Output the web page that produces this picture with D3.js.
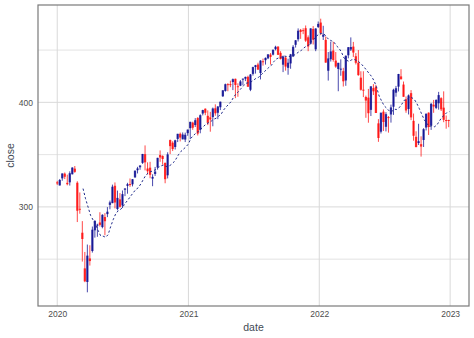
<!DOCTYPE html>
<html>
<head>
<meta charset="utf-8">
<script src="https://cdn.jsdelivr.net/npm/d3@7"></script>
<style>
  html, body { margin: 0; padding: 0; background: #ffffff; }
  svg { display: block; font-family: "Liberation Sans", Arial, sans-serif; }
</style>
</head>
<body>
<svg id="chart" width="474" height="338"></svg>
<script>
// SPY weekly candles, 2020-2022 (one entry per trading week, week ending Friday)
const firstWeekEnd = "2020-01-03";
const lastWeekEnd = "2022-12-30";

const weekOpen = [
  323.5, 320.5, 327.3, 331.8, 323.0, 323.5, 331.2, 336.6, 323.1, 298.2, 275.3, 241.2, 228.2, 250.7,
  257.8, 277.6, 282.6, 285.1, 280.7, 290.3, 293.1, 301.9, 303.6, 320.2, 298.0, 307.2, 301.4, 316.4,
  320.1, 321.9, 321.6, 328.3, 335.1, 337.9, 342.1, 350.4, 336.7, 337.5, 327.0, 331.5, 337.7, 349.6,
  348.7, 342.1, 330.2, 363.9, 361.4, 357.3, 365.0, 369.9, 364.6, 364.4, 370.5,
  375.3, 380.6, 378.3, 385.0, 373.7, 389.3, 393.9, 387.1, 385.6, 385.9, 394.3, 390.0, 395.3, 405.8,
  410.9, 417.4, 417.4, 419.4, 422.5, 415.4, 415.9, 422.6, 422.6, 424.4, 412.0, 427.2, 433.8, 436.2,
  428.0, 439.3, 440.3, 442.1, 445.6, 445.6, 450.9, 453.3, 447.3, 436.0, 442.8, 433.0, 437.2, 443.9,
  455.0, 460.3, 469.3, 469.0, 470.9, 462.2, 456.1, 470.2, 450.7, 472.1,
  476.3, 462.7, 459.7, 430.2, 441.2, 449.5, 439.9, 431.9, 432.0, 429.8, 420.9, 445.0, 450.5, 453.3,
  444.1, 437.9, 423.6, 412.1, 405.1, 404.5, 392.8, 413.6, 414.8, 379.9, 371.9, 391.1, 376.6, 385.9,
  388.4, 395.8, 409.2, 415.0, 424.8, 417.0, 402.9, 393.6, 408.8, 382.3, 367.0, 361.1, 360.0, 364.0,
  375.9, 390.1, 377.7, 397.7, 394.7, 399.1, 404.0, 394.9, 383.1, 383.1
];

const weekHigh = [
  324.9, 326.7, 332.0, 332.9, 330.8, 334.0, 337.9, 339.1, 324.5, 313.8, 286.4, 256.9, 264.0, 263.3,
  281.2, 287.3, 283.9, 294.9, 293.0, 294.0, 299.8, 306.0, 321.3, 323.4, 315.6, 313.2, 315.7, 317.9,
  323.0, 327.2, 326.6, 334.9, 338.3, 340.0, 350.7, 358.8, 342.6, 343.1, 331.2, 338.2, 347.0, 354.0,
  349.3, 342.4, 352.2, 364.4, 362.8, 364.2, 369.9, 371.1, 371.2, 371.0, 374.0,
  381.5, 381.5, 384.9, 385.9, 388.5, 392.9, 394.2, 392.3, 390.9, 395.0, 398.1, 396.4, 400.7, 411.7,
  417.9, 418.3, 420.7, 422.8, 422.7, 418.2, 421.3, 422.9, 424.6, 425.5, 427.1, 434.1, 435.8, 437.9,
  440.3, 441.8, 442.9, 446.0, 447.1, 450.4, 454.1, 453.6, 448.9, 444.7, 444.0, 441.7, 446.3, 454.7,
  459.6, 470.7, 470.2, 470.9, 473.5, 464.0, 470.9, 472.9, 470.9, 477.3,
  480.0, 473.2, 463.0, 448.1, 458.1, 457.9, 448.1, 437.8, 441.1, 433.0, 444.9, 452.9, 462.1, 457.8,
  447.1, 450.0, 429.7, 429.7, 406.4, 412.8, 415.4, 417.4, 416.6, 383.9, 390.1, 393.2, 390.6, 386.9,
  397.8, 413.0, 415.7, 427.2, 431.7, 419.9, 405.6, 407.5, 411.7, 389.3, 372.3, 379.5, 367.5, 375.3,
  389.5, 390.4, 399.4, 402.3, 402.9, 410.0, 404.9, 410.5, 387.4, 383.4
];

const weekLow = [
  321.0, 320.4, 325.0, 326.6, 320.6, 320.4, 331.0, 332.6, 285.5, 293.5, 247.7, 228.0, 218.3, 243.9,
  256.3, 270.6, 271.4, 281.2, 279.5, 272.9, 290.2, 297.7, 303.5, 298.6, 296.7, 299.4, 298.9, 310.3,
  312.6, 319.2, 319.6, 327.7, 332.0, 335.5, 341.1, 334.9, 331.0, 327.4, 319.8, 329.6, 335.6, 343.1,
  340.4, 322.6, 327.2, 350.5, 353.4, 354.9, 362.0, 362.6, 364.6, 362.0, 368.0,
  364.8, 373.7, 376.4, 368.3, 370.4, 387.5, 387.7, 378.2, 371.9, 377.1, 387.2, 383.9, 392.6, 405.1,
  410.2, 410.6, 414.5, 411.7, 404.0, 405.3, 415.5, 416.3, 420.3, 414.7, 410.7, 425.6, 427.5, 430.9,
  421.9, 435.1, 436.1, 441.3, 436.1, 444.9, 449.7, 445.4, 441.0, 428.9, 430.3, 426.4, 432.1, 443.3,
  452.4, 458.2, 460.7, 465.2, 457.8, 448.9, 455.3, 455.3, 448.9, 471.1,
  464.3, 459.6, 437.8, 420.8, 439.0, 438.9, 433.0, 410.6, 425.4, 415.1, 415.8, 442.1, 449.1, 443.4,
  436.2, 425.4, 411.2, 405.0, 385.2, 380.5, 386.9, 407.0, 389.8, 362.2, 370.2, 372.6, 372.2, 371.0,
  380.6, 388.0, 405.4, 410.4, 421.8, 405.3, 390.0, 388.4, 383.0, 363.3, 357.0, 359.2, 348.1, 357.3,
  373.1, 368.8, 373.6, 390.0, 393.5, 393.0, 391.7, 381.0, 374.8, 376.2
];

const weekClose = [
  322.4, 325.7, 332.0, 328.8, 321.7, 332.2, 337.6, 333.5, 296.3, 297.5, 269.3, 228.8, 253.4, 248.2,
  278.2, 286.6, 283.0, 282.8, 292.4, 286.3, 295.4, 304.3, 319.3, 304.2, 308.6, 300.1, 312.2, 317.6,
  321.7, 320.9, 326.5, 334.6, 336.8, 339.5, 350.6, 342.6, 334.1, 330.7, 328.7, 333.8, 346.9, 347.3,
  345.8, 326.5, 350.2, 358.1, 355.3, 363.7, 369.9, 366.3, 369.2, 369.0, 373.9,
  381.3, 375.7, 382.9, 370.1, 387.7, 392.6, 390.0, 380.4, 383.6, 394.1, 389.5, 396.0, 400.6, 411.5,
  417.3, 416.7, 417.3, 422.1, 416.6, 414.9, 420.0, 422.6, 424.3, 414.9, 426.6, 433.7, 435.5, 431.3,
  439.9, 438.5, 442.5, 445.9, 443.4, 450.3, 453.1, 445.4, 441.4, 443.9, 434.2, 437.9, 445.9, 453.1,
  459.3, 468.5, 467.3, 468.9, 459.0, 453.4, 470.7, 459.9, 470.6, 475.0,
  466.1, 464.7, 438.0, 442.0, 448.7, 440.5, 434.2, 437.8, 432.2, 420.1, 444.5, 452.7, 452.9, 447.6,
  437.8, 426.0, 412.0, 411.3, 401.7, 389.6, 415.3, 410.5, 389.8, 365.9, 390.1, 381.2, 388.7, 385.1,
  395.1, 412.0, 413.5, 427.1, 422.1, 405.3, 392.2, 406.6, 385.6, 368.0, 357.2, 362.8, 357.7, 374.3,
  389.0, 376.4, 398.5, 396.0, 402.3, 406.9, 393.3, 383.3, 382.9, 382.4
];

// 50-day simple moving average of the close, sampled at each week end
const sma50 = [
  null, null, null, null, null, null, null, null, null, null,
  317.5, 307.8, 299.9, 291.9, 287.5, 282.9, 277.5, 272.4, 272.0, 270.9, 273.5, 281.1, 287.7, 293.3,
  296.3, 297.6, 300.6, 304.0, 307.0, 310.4, 313.5, 316.6, 318.3, 321.9, 326.1, 330.3, 332.5, 333.8,
  334.5, 335.8, 337.8, 339.1, 340.0, 338.7, 338.7, 340.2, 342.3, 345.6, 349.8, 353.0, 355.2, 357.4, 360.2,
  365.7, 368.2, 370.7, 372.2, 374.6, 376.9, 379.2, 380.4, 381.8, 383.8, 384.7, 386.7, 388.5, 392.6,
  395.6, 398.0, 400.7, 404.9, 408.2, 410.3, 413.3, 416.0, 418.3, 418.7, 419.6, 421.3, 423.1, 424.0,
  426.4, 428.7, 431.0, 433.3, 435.2, 438.8, 441.4, 442.6, 443.2, 444.4, 443.9, 443.8, 444.1, 444.9,
  446.5, 448.3, 449.7, 452.0, 453.8, 454.8, 458.4, 460.6, 463.1, 465.3,
  465.9, 465.6, 462.6, 459.9, 458.9, 457.6, 454.0, 451.8, 447.9, 442.4, 440.3, 439.1, 440.6, 441.1,
  440.0, 438.6, 436.4, 433.7, 430.7, 427.6, 424.7, 420.5, 414.2, 406.0, 401.2, 396.7, 394.4, 391.8,
  391.1, 393.4, 393.2, 394.9, 398.1, 402.0, 402.2, 404.8, 404.5, 402.8, 399.0, 394.0, 388.5, 383.2,
  379.9, 377.0, 377.6, 376.6, 378.2, 382.1, 385.7, 387.8, 390.3, 391.1
];

const yearTicks = ["2020-01-01", "2021-01-01", "2022-01-01", "2023-01-01"];
const yearLabels = ["2020", "2021", "2022", "2023"];
const yMajorTicks = [300, 400];
const yMinorTicks = [250, 350, 450];

const upColor = "#00008b";
const downColor = "#ff0000";

// ---- build the table ----
const parse = d3.utcParse("%Y-%m-%d");
const weekEnds = d3.utcFriday.range(parse(firstWeekEnd), d3.utcDay.offset(parse(lastWeekEnd), 1));
const weeks = weekEnds.map((d, i) => ({
  end: d,
  mid: d3.utcDay.offset(d, -2),
  open: weekOpen[i], high: weekHigh[i], low: weekLow[i], close: weekClose[i],
  ma: sma50[i]
}));

// ---- layout ----
const svg = d3.select("#chart");
const panel = { left: 38, right: 469, top: 5, bottom: 306 };

// ggplot-style 5% expansion of the data range
const firstDay = parse("2020-01-02"), lastDay = parse(lastWeekEnd);
const span = lastDay - firstDay;
const x = d3.scaleUtc()
  .domain([new Date(+firstDay - span * 0.05), new Date(+lastDay + span * 0.05)])
  .range([panel.left, panel.right]);

const yMin = d3.min(weekLow), yMax = d3.max(weekHigh);
const yPad = (yMax - yMin) * 0.05;
const y = d3.scaleLinear()
  .domain([yMin - yPad, yMax + yPad])
  .range([panel.bottom, panel.top]);

// ---- grid ----
const grid = svg.append("g");
grid.selectAll("line.minor").data(yMinorTicks).join("line")
  .attr("x1", panel.left).attr("x2", panel.right)
  .attr("y1", d => y(d)).attr("y2", d => y(d))
  .attr("stroke", "#e0e0e0").attr("stroke-width", 0.9);
grid.selectAll("line.major").data(yMajorTicks).join("line")
  .attr("x1", panel.left).attr("x2", panel.right)
  .attr("y1", d => y(d)).attr("y2", d => y(d))
  .attr("stroke", "#d9d9d9").attr("stroke-width", 1);
grid.selectAll("line.vx").data(yearTicks).join("line")
  .attr("x1", d => x(parse(d))).attr("x2", d => x(parse(d)))
  .attr("y1", panel.top).attr("y2", panel.bottom)
  .attr("stroke", "#d9d9d9").attr("stroke-width", 1);

// ---- candles ----
const candles = svg.append("g");
const bodyW = 2.3;
candles.selectAll("line.wick").data(weeks).join("line")
  .attr("x1", d => x(d.mid)).attr("x2", d => x(d.mid))
  .attr("y1", d => y(d.high)).attr("y2", d => y(d.low))
  .attr("stroke", d => d.close >= d.open ? upColor : downColor)
  .attr("stroke-width", 0.9)
  .attr("stroke-opacity", 0.8);
candles.selectAll("rect.body").data(weeks).join("rect")
  .attr("x", d => x(d.mid) - bodyW / 2)
  .attr("width", bodyW)
  .attr("y", d => y(Math.max(d.open, d.close)))
  .attr("height", d => Math.max(1, Math.abs(y(d.open) - y(d.close))))
  .attr("fill", d => d.close >= d.open ? upColor : downColor)
  .attr("fill-opacity", 0.75);

// ---- moving average ----
const maLine = d3.line()
  .defined(d => d.ma != null)
  .x(d => x(d.end))
  .y(d => y(d.ma));
svg.append("path")
  .datum(weeks)
  .attr("d", maLine)
  .attr("fill", "none")
  .attr("stroke", "#1f2a8a")
  .attr("stroke-width", 1)
  .attr("stroke-dasharray", "2.2,2.2");

// ---- panel border ----
svg.append("rect")
  .attr("x", panel.left).attr("y", panel.top)
  .attr("width", panel.right - panel.left)
  .attr("height", panel.bottom - panel.top)
  .attr("fill", "none")
  .attr("stroke", "#7a7a7a")
  .attr("stroke-width", 1.2);

// ---- axes ----
const xAxis = d3.axisBottom(x)
  .tickValues(yearTicks.map(parse))
  .tickFormat((d, i) => yearLabels[i])
  .tickSize(0).tickPadding(5);
const gx = svg.append("g")
  .attr("transform", `translate(0,${panel.bottom})`)
  .call(xAxis);
gx.select(".domain").remove();
gx.selectAll("text").attr("fill", "#4d4d4d").attr("font-size", 8.5)
  .attr("font-family", "Liberation Sans, Arial, sans-serif");

const yAxis = d3.axisLeft(y)
  .tickValues(yMajorTicks)
  .tickFormat(d3.format("d"))
  .tickSize(0).tickPadding(5);
const gy = svg.append("g")
  .attr("transform", `translate(${panel.left},0)`)
  .call(yAxis);
gy.select(".domain").remove();
gy.selectAll("text").attr("fill", "#4d4d4d").attr("font-size", 8.5)
  .attr("font-family", "Liberation Sans, Arial, sans-serif");

// ---- axis titles ----
svg.append("text")
  .attr("x", (panel.left + panel.right) / 2)
  .attr("y", 331)
  .attr("text-anchor", "middle")
  .attr("fill", "#3f4a55")
  .attr("font-size", 10.5)
  .text("date");
svg.append("text")
  .attr("transform", `translate(14,${(panel.top + panel.bottom) / 2}) rotate(-90)`)
  .attr("text-anchor", "middle")
  .attr("fill", "#3f4a55")
  .attr("font-size", 10.5)
  .text("close");
</script>
</body>
</html>
